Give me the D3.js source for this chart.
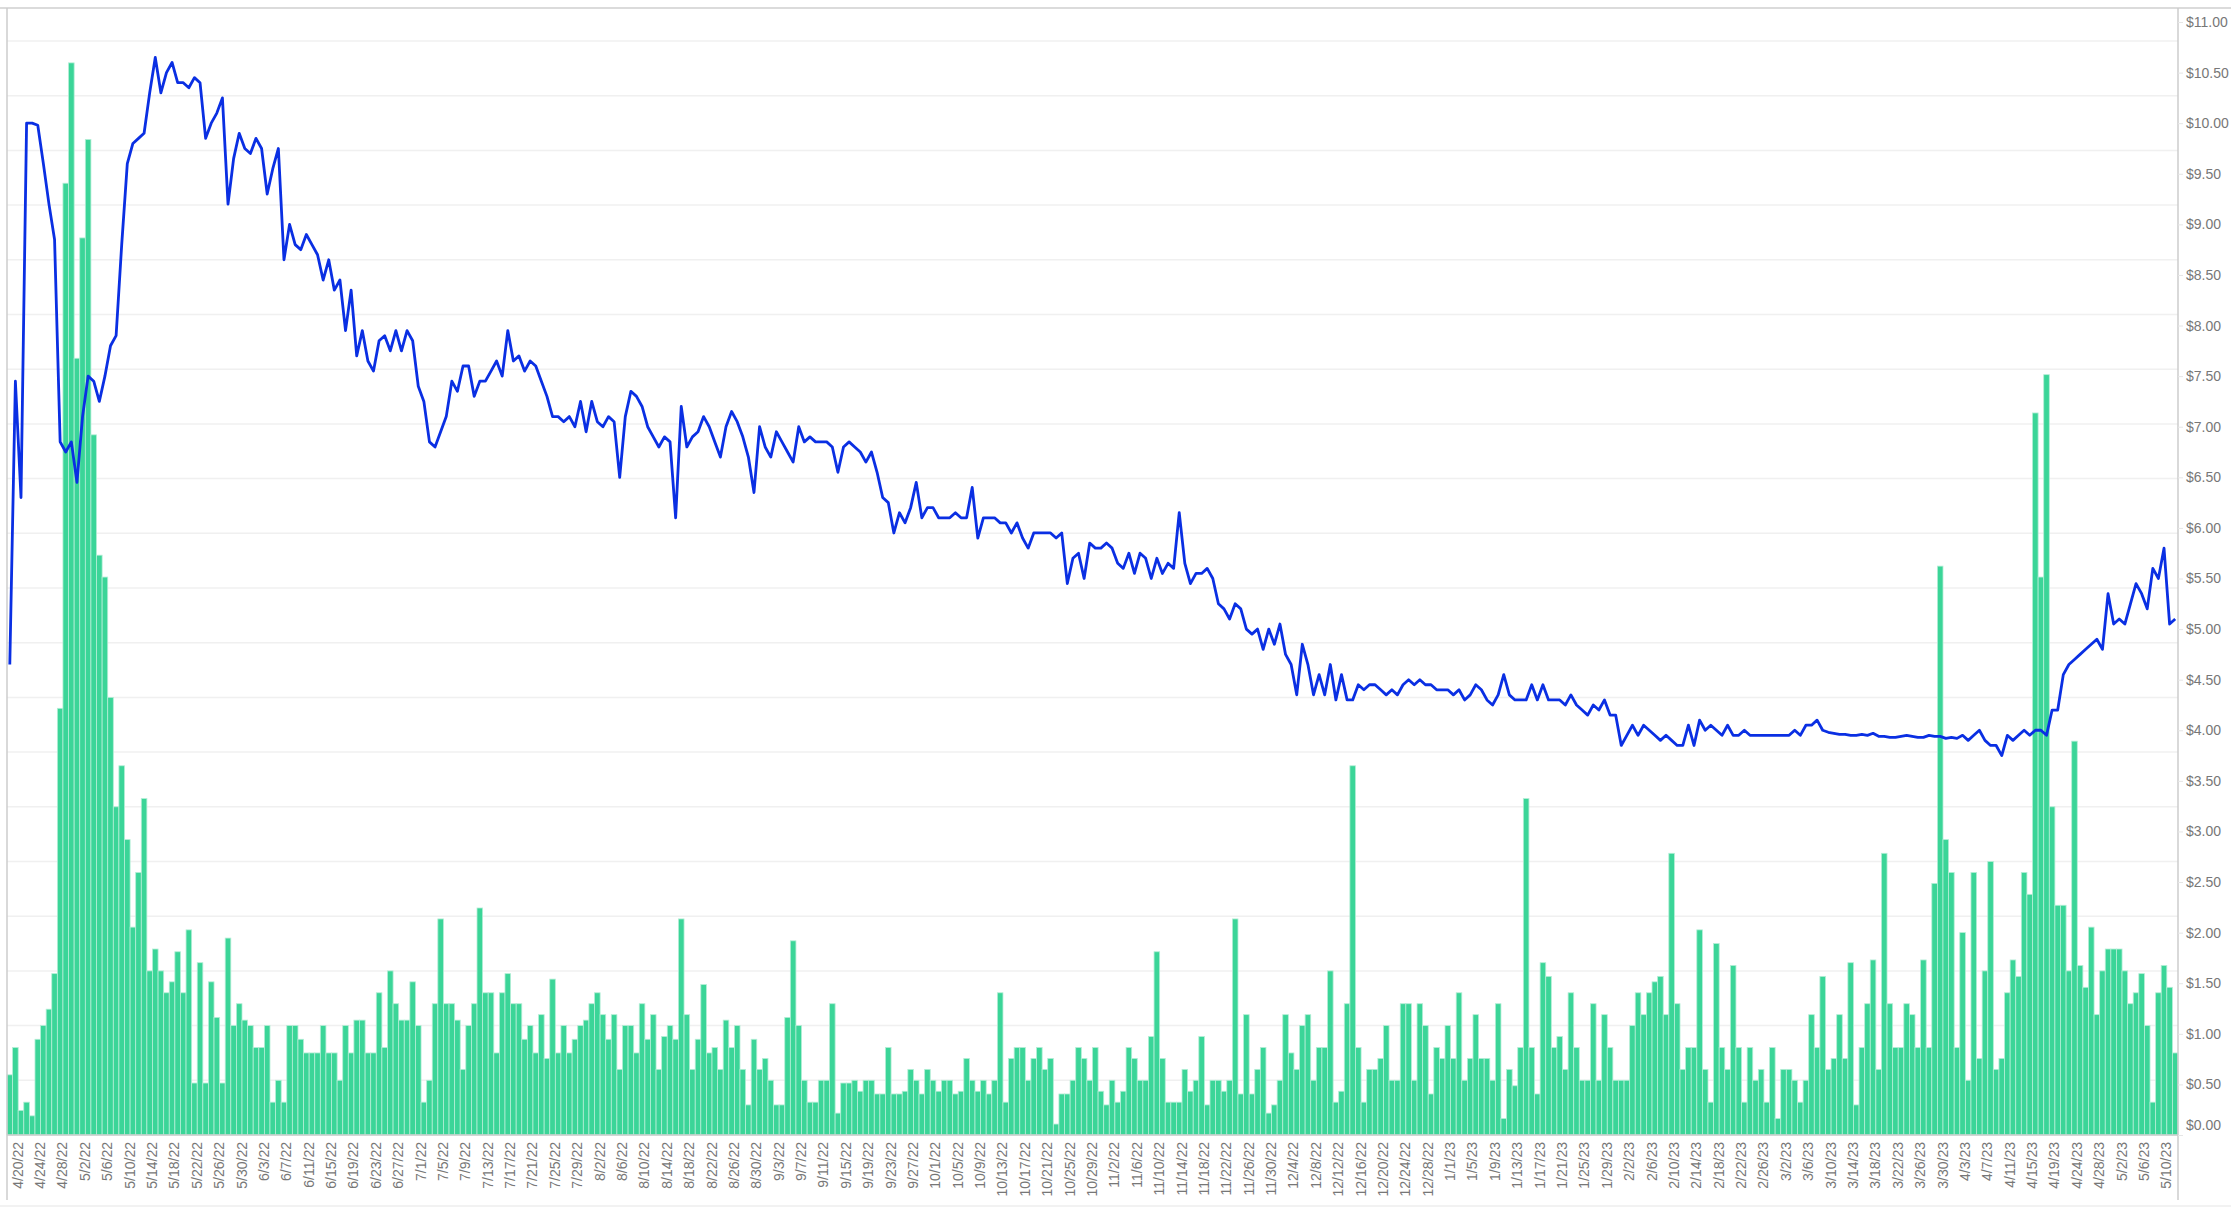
<!DOCTYPE html>
<html><head><meta charset="utf-8">
<script src="https://cdn.jsdelivr.net/npm/d3@7"></script>
<style>body{margin:0;background:#fff}svg{display:block}</style>
</head><body>
<script>
const W=2231,H=1209;
// categories: daily dates 4/20/22 .. 5/13/23 (4/21/23 absent)
const startDate=new Date(2022,3,20), endDate=new Date(2023,4,14);
const missingDates=["4/21/23"];
const fmt=d3.timeFormat("%-m/%-d/%y");
const dates=d3.timeDay.range(startDate,endDate).map(fmt).filter(s=>!missingDates.includes(s));

const price=[
4.65,7.45,6.3,10.0,10.0,9.98,9.6,9.2,8.85,6.85,
6.75,6.85,6.45,7.1,7.5,7.45,7.25,7.5,7.8,7.9,
8.8,9.6,9.8,9.85,9.9,10.3,10.65,10.3,10.5,10.6,
10.4,10.4,10.35,10.45,10.4,9.85,10.0,10.1,10.25,9.2,
9.65,9.9,9.75,9.7,9.85,9.75,9.3,9.55,9.75,8.65,
9.0,8.8,8.75,8.9,8.8,8.7,8.45,8.65,8.35,8.45,
7.95,8.35,7.7,7.95,7.65,7.55,7.85,7.9,7.75,7.95,
7.75,7.95,7.85,7.4,7.25,6.85,6.8,6.95,7.1,7.45,
7.35,7.6,7.6,7.3,7.45,7.45,7.55,7.65,7.5,7.95,
7.65,7.7,7.55,7.65,7.6,7.45,7.3,7.1,7.1,7.05,
7.1,7.0,7.25,6.95,7.25,7.05,7.0,7.1,7.05,6.5,
7.1,7.35,7.3,7.2,7.0,6.9,6.8,6.9,6.85,6.1,
7.2,6.8,6.9,6.95,7.1,7.0,6.85,6.7,7.0,7.15,
7.05,6.9,6.7,6.35,7.0,6.8,6.7,6.95,6.85,6.75,
6.65,7.0,6.85,6.9,6.85,6.85,6.85,6.8,6.55,6.8,
6.85,6.8,6.75,6.65,6.75,6.55,6.3,6.25,5.95,6.15,
6.05,6.2,6.45,6.1,6.2,6.2,6.1,6.1,6.1,6.15,
6.1,6.1,6.4,5.9,6.1,6.1,6.1,6.05,6.05,5.95,
6.05,5.9,5.8,5.95,5.95,5.95,5.95,5.9,5.95,5.45,
5.7,5.75,5.5,5.85,5.8,5.8,5.85,5.8,5.65,5.6,
5.75,5.55,5.75,5.7,5.5,5.7,5.55,5.65,5.6,6.15,
5.65,5.45,5.55,5.55,5.6,5.5,5.25,5.2,5.1,5.25,
5.2,5.0,4.95,5.0,4.8,5.0,4.85,5.05,4.75,4.65,
4.35,4.85,4.65,4.35,4.55,4.35,4.65,4.3,4.55,4.3,
4.3,4.45,4.4,4.45,4.45,4.4,4.35,4.4,4.35,4.45,
4.5,4.45,4.5,4.45,4.45,4.4,4.4,4.4,4.35,4.4,
4.3,4.35,4.45,4.4,4.3,4.25,4.35,4.55,4.35,4.3,
4.3,4.3,4.45,4.3,4.45,4.3,4.3,4.3,4.25,4.35,
4.25,4.2,4.15,4.25,4.2,4.3,4.15,4.15,3.85,3.95,
4.05,3.95,4.05,4.0,3.95,3.9,3.95,3.9,3.85,3.85,
4.05,3.85,4.1,4.0,4.05,4.0,3.95,4.05,3.95,3.95,
4.0,3.95,3.95,3.95,3.95,3.95,3.95,3.95,3.95,4.0,
3.95,4.05,4.05,4.1,4.0,3.98,3.97,3.96,3.96,3.95,
3.95,3.96,3.95,3.97,3.94,3.94,3.93,3.93,3.94,3.95,
3.94,3.93,3.93,3.95,3.94,3.94,3.92,3.93,3.92,3.95,
3.9,3.95,4.0,3.9,3.85,3.85,
3.75,3.95,3.9,3.95,4.0,3.95,4.0,4.0,3.95,4.2,
4.2,4.55,4.65,4.7,4.75,4.8,4.85,4.9,4.8,5.35,
5.05,5.1,5.05,5.25,5.45,5.35,5.2,5.6,5.5,5.8,
5.05,5.1];

const volume=[
1.1,1.6,0.45,0.6,0.35,1.75,2.0,2.3,2.95,7.8,
17.4,19.6,14.2,16.4,18.2,12.8,10.6,10.2,8.0,6.0,
6.75,5.4,3.8,4.8,6.15,
3.0,3.4,3.0,2.6,2.8,3.35,2.6,3.75,0.95,3.15,0.95,2.8,2.15,0.95,3.6,2.0,
2.4,2.1,2.0,1.6,1.6,2.0,0.6,1.0,0.6,2.0,2.0,1.75,1.5,1.5,1.5,2.0,
1.5,1.5,1.0,2.0,1.5,2.1,2.1,1.5,1.5,2.6,1.6,3.0,2.4,2.1,2.1,2.8,
2.0,0.6,1.0,2.4,3.95,2.4,2.4,2.1,1.2,2.0,2.4,4.15,2.6,2.6,1.5,2.6,
2.95,2.4,2.4,1.75,2.0,1.5,2.2,1.4,2.85,1.5,2.0,1.5,1.75,2.0,2.1,2.4,
2.6,2.2,1.75,2.2,1.2,2.0,2.0,1.5,2.4,1.75,2.2,1.2,1.8,2.0,1.75,3.95,
2.2,1.2,1.75,2.75,1.5,1.6,1.2,2.1,1.6,2.0,1.2,0.55,1.75,1.2,1.4,1.0,
0.55,0.55,2.15,3.55,2.0,1.0,0.6,0.6,1.0,1.0,2.4,0.4,0.95,0.95,1.0,0.8,
1.0,1.0,0.75,0.75,1.6,0.75,0.75,0.8,1.2,1.0,0.75,1.2,1.0,0.8,1.0,1.0,
0.75,0.8,1.4,1.0,0.8,1.0,0.75,1.0,2.6,0.6,1.4,1.6,1.6,1.0,1.4,1.6,
1.2,1.4,0.2,0.75,0.75,1.0,1.6,1.4,1.0,1.6,0.8,0.55,1.0,0.6,0.8,1.6,
1.4,1.0,1.0,1.8,3.35,1.4,0.6,0.6,0.6,1.2,0.8,1.0,1.8,0.55,1.0,1.0,
0.8,1.0,3.95,0.75,2.2,0.75,1.2,1.6,0.4,0.55,1.0,2.2,1.5,1.2,2.0,2.2,
1.0,1.6,1.6,3.0,0.6,0.8,2.4,6.75,1.6,0.6,1.2,1.2,1.4,2.0,1.0,1.0,
2.4,2.4,1.0,2.4,2.0,0.75,1.6,1.4,2.0,1.4,2.6,1.0,1.4,2.2,1.4,1.4,
1.0,2.4,0.3,1.2,0.9,1.6,6.15,1.6,0.75,3.15,2.9,1.6,1.8,1.2,2.6,1.6,
1.0,1.0,2.4,1.0,2.2,1.6,1.0,1.0,1.0,2.0,2.6,2.2,2.6,2.8,2.9,2.2,
5.15,2.4,1.2,1.6,1.6,3.75,1.2,0.6,3.5,1.6,1.2,3.1,1.6,0.6,1.6,1.0,
1.2,0.6,1.6,0.3,1.2,1.2,1.0,0.6,1.0,2.2,1.6,2.9,1.2,1.4,2.2,1.4,
3.15,0.55,1.6,2.4,3.2,1.2,5.15,2.4,1.6,1.6,2.4,2.2,1.6,3.2,1.6,4.6,
10.4,5.4,4.8,1.6,3.7,1.0,4.8,1.4,3.0,5.0,1.2,
1.4,2.6,3.2,2.9,4.8,4.4,13.2,10.2,13.9,6.0,
4.2,4.2,3.0,7.2,3.1,2.7,3.8,2.2,3.0,3.4,
3.4,3.4,3.0,2.4,2.6,2.95,2.0,0.6,2.6,3.1,
2.7,1.5];

const priceTicks=d3.range(0,11.01,0.5);
const volumeGrid=d3.range(1,21,1);

(function(){
const left=7,right=2178,plotTop=8,base=1135;
const n=Math.min(dates.length,price.length,volume.length);
const cats=dates.slice(0,n);
const x=d3.scaleBand().domain(cats).range([left,right]).paddingInner(0).paddingOuter(0);
const yP=d3.scaleLinear().domain([0,11]).range([base,22]);
const yV=d3.scaleLinear().domain([0,20]).range([base,base-20*54.7]);

const svg=d3.select("body").append("svg").attr("width",W).attr("height",H)
  .style("font-family","'Open Sans',sans-serif");

svg.append("line").attr("x1",0).attr("x2",W).attr("y1",plotTop).attr("y2",plotTop).attr("stroke","#cfcfcf").attr("stroke-width",1.5);
svg.append("line").attr("x1",0).attr("x2",W).attr("y1",1206).attr("y2",1206).attr("stroke","#eeeeee").attr("stroke-width",1.5);
svg.append("g").selectAll("line").data(volumeGrid).join("line")
  .attr("x1",left).attr("x2",right).attr("y1",d=>yV(d)).attr("y2",d=>yV(d))
  .attr("stroke","#f0f0f0").attr("stroke-width",1.5);

svg.append("g").selectAll("rect").data(cats).join("rect")
  .attr("x",d=>x(d)).attr("width",x.bandwidth())
  .attr("y",(d,i)=>yV(volume[i])).attr("height",(d,i)=>base-yV(volume[i]))
  .attr("fill","#3bd598").attr("stroke","#b4eed6").attr("stroke-width",0.8);

const line=d3.line().x((d,i)=>x(cats[i])+x.bandwidth()/2).y(d=>yP(d));
svg.append("path").datum(price.slice(0,n)).attr("d",line)
  .attr("fill","none").attr("stroke","#0a2fe3").attr("stroke-width",2.8).attr("stroke-linejoin","round");

svg.append("line").attr("x1",left).attr("x2",left).attr("y1",plotTop).attr("y2",1200).attr("stroke","#cccccc").attr("stroke-width",1.5);
svg.append("line").attr("x1",right).attr("x2",right).attr("y1",plotTop).attr("y2",1200).attr("stroke","#cccccc").attr("stroke-width",1.5);
svg.append("line").attr("x1",left).attr("x2",right).attr("y1",base).attr("y2",base).attr("stroke","#cccccc").attr("stroke-width",1.5);

const ax=svg.append("g").attr("transform",`translate(${right},0)`)
  .call(d3.axisRight(yP).tickValues(priceTicks).tickSize(5).tickFormat(d=>"$"+d.toFixed(2)));
ax.select(".domain").remove();
ax.selectAll(".tick line").attr("stroke","#e6e6e6");
ax.selectAll(".tick text").attr("fill","#777").style("font-size","14px").attr("x",8)
  .attr("dy",d=>d===0?"-0.4em":"0.32em");

const xt=cats.filter((d,i)=>i%4===0);
const bx=svg.append("g").attr("transform",`translate(8,${base})`)
  .call(d3.axisBottom(x).tickValues(xt).tickSize(0));
bx.select(".domain").remove();
bx.selectAll(".tick text").attr("fill","#777").style("font-size","14px")
  .attr("transform","rotate(-90)").attr("text-anchor","end").attr("x",-7).attr("y",0).attr("dy","0.35em");
})();
</script>
</body></html>
